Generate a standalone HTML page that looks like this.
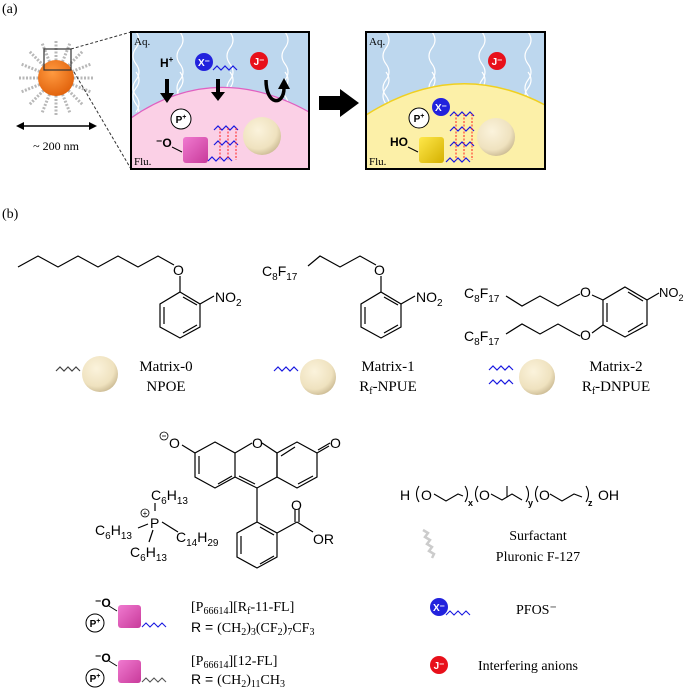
<!DOCTYPE html>
<html><head><meta charset="utf-8"><style>
body{margin:0;background:#fff}
svg{display:block}
.s{font-family:"Liberation Serif",serif}
.a{font-family:"Liberation Sans",sans-serif}
</style></head><body>
<svg width="685" height="689" viewBox="0 0 685 689" xmlns="http://www.w3.org/2000/svg">
<defs>
<polyline id="zz" points="0,0 4,-4 8,0 12,-4 16,0 20,-4 24,0" fill="none"/>
<path id="wv" d="M0,0 q6,8 0,16 q-6,8 0,16 q6,8 0,16 q-6,8 0,16 q6,8 0,16" fill="none" stroke="#fff" stroke-width="1.2"/>
<radialGradient id="sph" cx="0.4" cy="0.35" r="0.7"><stop offset="0" stop-color="#fbf3dc"/><stop offset="0.7" stop-color="#efe2bf"/><stop offset="1" stop-color="#c9b891"/></radialGradient>
<radialGradient id="org" cx="0.4" cy="0.35" r="0.7"><stop offset="0" stop-color="#ff9a40"/><stop offset="1" stop-color="#e0600a"/></radialGradient>
<linearGradient id="pk" x1="0" y1="0" x2="1" y2="1"><stop offset="0" stop-color="#f07ad0"/><stop offset="1" stop-color="#c83a9a"/></linearGradient>
<linearGradient id="yl" x1="0" y1="0" x2="1" y2="1"><stop offset="0" stop-color="#ffe84a"/><stop offset="1" stop-color="#d4b000"/></linearGradient>
</defs>

<text x="2" y="13" class="s" font-size="14">(a)</text>
<!-- particle -->
<g stroke="#b8b8b8" stroke-width="3" stroke-dasharray="2 1.5">
<line x1="56" y1="78" x2="56" y2="40"/><line x1="56" y1="78" x2="56" y2="116"/>
<line x1="56" y1="78" x2="19" y2="78"/><line x1="56" y1="78" x2="93" y2="78"/>
<line x1="56" y1="78" x2="29" y2="51"/><line x1="56" y1="78" x2="83" y2="51"/>
<line x1="56" y1="78" x2="29" y2="105"/><line x1="56" y1="78" x2="83" y2="105"/>
<line x1="56" y1="78" x2="42" y2="43"/><line x1="56" y1="78" x2="70" y2="43"/>
<line x1="56" y1="78" x2="42" y2="113"/><line x1="56" y1="78" x2="70" y2="113"/>
<line x1="56" y1="78" x2="21" y2="64"/><line x1="56" y1="78" x2="91" y2="64"/>
<line x1="56" y1="78" x2="21" y2="92"/><line x1="56" y1="78" x2="91" y2="92"/>
</g>
<circle cx="56" cy="78" r="18" fill="url(#org)"/>
<rect x="44" y="49" width="27" height="21" fill="none" stroke="#333" stroke-width="1.2"/>
<line x1="71" y1="49" x2="131" y2="32" stroke="#333" stroke-dasharray="3 2"/>
<line x1="74" y1="72" x2="131" y2="169" stroke="#333" stroke-dasharray="3 2"/>
<line x1="22" y1="126" x2="91" y2="126" stroke="#000" stroke-width="1.5"/>
<polygon points="16,126 24,122 24,130"/><polygon points="97,126 89,122 89,130"/>
<text x="56" y="150" class="s" font-size="12" text-anchor="middle">~ 200  nm</text>

<!-- left box -->
<rect x="131" y="32" width="178" height="137" fill="#bdd7ee"/>
<use href="#wv" x="136" y="32"/><use href="#wv" x="136" y="72"/>
<use href="#wv" x="180" y="32"/><use href="#wv" x="180" y="72"/>
<use href="#wv" x="230" y="32"/><use href="#wv" x="230" y="72"/>
<use href="#wv" x="285" y="32"/><use href="#wv" x="285" y="72"/>
<path d="M131,118 Q215,60 309,112 L309,169 L131,169 Z" fill="#fbd0e6" stroke="#e060c0" stroke-width="1.2"/>
<rect x="131" y="32" width="178" height="137" fill="none" stroke="#000" stroke-width="2"/>
<text x="134" y="45" class="s" font-size="11">Aq.</text>
<text x="134" y="165" class="s" font-size="11">Flu.</text>
<text x="160" y="67" class="a" font-size="12" font-weight="bold">H<tspan font-size="8" dy="-5">+</tspan></text>
<g stroke="#1a1ae0" stroke-width="1.2"><use href="#zz" x="213" y="70"/></g>
<circle cx="204" cy="62" r="9" fill="#2222dd"/>
<text x="204" y="66" class="a" font-size="10" font-weight="bold" fill="#fff" text-anchor="middle">X⁻</text>
<circle cx="259" cy="61" r="9" fill="#e8101a"/>
<text x="259" y="65" class="a" font-size="10" font-weight="bold" fill="#fff" text-anchor="middle">J⁻</text>
<rect x="165" y="79" width="4" height="15"/><polygon points="160,93 174,93 167,103"/>
<rect x="216" y="79" width="4" height="14"/><polygon points="211,92 225,92 218,101"/>
<path d="M266,80 C266,106 284,106 284,88" fill="none" stroke="#000" stroke-width="3.5"/>
<polygon points="278,89 284,78 290,89"/>
<circle cx="181" cy="119" r="10" fill="#fff" stroke="#000"/>
<text x="181" y="123" class="a" font-size="10" font-weight="bold" text-anchor="middle">P<tspan font-size="7" dy="-4">+</tspan></text>
<text x="156" y="147" class="a" font-size="12" font-weight="bold">⁻O</text>
<line x1="172" y1="147" x2="182" y2="152" stroke="#000"/>
<rect x="183" y="137" width="25" height="26" rx="3" fill="url(#pk)"/>
<g stroke="#1a1ae0" stroke-width="1.2"><use href="#zz" x="214" y="130"/><use href="#zz" x="214" y="145"/><use href="#zz" x="208" y="161"/></g>
<g stroke="#ff2020" stroke-width="1" stroke-dasharray="2 1.5"><line x1="220" y1="128" x2="220" y2="160"/><line x1="228" y1="128" x2="228" y2="160"/><line x1="236" y1="128" x2="236" y2="160"/></g>
<circle cx="262" cy="136" r="19" fill="url(#sph)"/>

<!-- arrow -->
<polygon points="319,96 340,96 340,89 359,103 340,117 340,110 319,110"/>

<!-- right box -->
<rect x="366" y="32" width="179" height="137" fill="#bdd7ee"/>
<use href="#wv" x="386" y="32"/><use href="#wv" x="386" y="72"/>
<use href="#wv" x="432" y="32"/><use href="#wv" x="432" y="72"/>
<use href="#wv" x="482" y="32"/><use href="#wv" x="482" y="72"/>
<use href="#wv" x="528" y="32"/><use href="#wv" x="528" y="72"/>
<path d="M366,115 Q456,58 545,105 L545,169 L366,169 Z" fill="#fcf0a8" stroke="#f0d020" stroke-width="1.5"/>
<rect x="366" y="32" width="179" height="137" fill="none" stroke="#000" stroke-width="2"/>
<text x="369" y="45" class="s" font-size="11">Aq.</text>
<text x="369" y="165" class="s" font-size="11">Flu.</text>
<circle cx="497" cy="61" r="9" fill="#e8101a"/>
<text x="497" y="65" class="a" font-size="10" font-weight="bold" fill="#fff" text-anchor="middle">J⁻</text>
<circle cx="441" cy="107" r="9" fill="#2222dd"/>
<text x="441" y="111" class="a" font-size="10" font-weight="bold" fill="#fff" text-anchor="middle">X⁻</text>
<circle cx="419" cy="118" r="10" fill="#fff" stroke="#000"/>
<text x="419" y="122" class="a" font-size="10" font-weight="bold" text-anchor="middle">P<tspan font-size="7" dy="-4">+</tspan></text>
<text x="390" y="146" class="a" font-size="12" font-weight="bold">HO</text>
<line x1="408" y1="147" x2="418" y2="152" stroke="#000"/>
<rect x="419" y="137" width="25" height="26" rx="3" fill="url(#yl)"/>
<g stroke="#1a1ae0" stroke-width="1.2"><use href="#zz" x="450" y="116"/><use href="#zz" x="450" y="131"/><use href="#zz" x="450" y="146"/><use href="#zz" x="446" y="162"/></g>
<g stroke="#ff2020" stroke-width="1" stroke-dasharray="2 1.5"><line x1="456" y1="114" x2="456" y2="160"/><line x1="464" y1="114" x2="464" y2="160"/><line x1="472" y1="114" x2="472" y2="160"/></g>
<circle cx="496" cy="137" r="19" fill="url(#sph)"/>

<!-- (b) -->
<text x="2" y="218" class="s" font-size="14">(b)</text>
<g fill="none" stroke="#000" stroke-width="1.2">
<!-- matrix 0 -->
<polyline points="18,267 38,256 58,267 78,256 98,267 118,256 138,267 158,256 174,265"/>
<line x1="180" y1="276" x2="180" y2="292"/>
<polygon points="180,292 200,304 200,327 180,338 160,327 160,304"/>
<line x1="164" y1="307" x2="164" y2="324"/><line x1="183" y1="333" x2="197" y2="325"/><line x1="183" y1="297" x2="197" y2="305"/>
<line x1="200" y1="304" x2="214" y2="296"/>
<!-- matrix 1 -->
<polyline points="308,266 320,256 340,267 360,256 376,265"/>
<line x1="381" y1="276" x2="381" y2="292"/>
<polygon points="381,292 401,304 401,327 381,338 361,327 361,304"/>
<line x1="365" y1="307" x2="365" y2="324"/><line x1="384" y1="333" x2="398" y2="325"/><line x1="384" y1="297" x2="398" y2="305"/>
<line x1="401" y1="304" x2="415" y2="296"/>
<!-- matrix 2 -->
<polyline points="506,296 522,306 540,296 558,306 576,296 580,294"/>
<polyline points="506,334 522,324 540,334 558,324 576,334 580,336"/>
<line x1="592" y1="295" x2="603" y2="300"/><line x1="592" y1="333" x2="603" y2="325"/>
<polygon points="625,287 647,300 647,325 625,337 603,325 603,300"/>
<line x1="607" y1="303" x2="607" y2="322"/><line x1="628" y1="292" x2="643" y2="301"/><line x1="628" y1="332" x2="643" y2="323"/>
<line x1="647" y1="300" x2="659" y2="293"/>
</g>
<g class="a" font-size="14">
<text x="173" y="275">O</text>
<text x="215" y="302">NO<tspan font-size="10" dy="4">2</tspan></text>
<text x="262" y="276">C<tspan font-size="10" dy="4">8</tspan><tspan dy="-4">F</tspan><tspan font-size="10" dy="4">17</tspan></text>
<text x="374" y="275">O</text>
<text x="416" y="302">NO<tspan font-size="10" dy="4">2</tspan></text>
<text x="464" y="298">C<tspan font-size="10" dy="4">8</tspan><tspan dy="-4">F</tspan><tspan font-size="10" dy="4">17</tspan></text>
<text x="464" y="341">C<tspan font-size="10" dy="4">8</tspan><tspan dy="-4">F</tspan><tspan font-size="10" dy="4">17</tspan></text>
<text x="580" y="297">O</text>
<text x="580" y="340">O</text>
<text x="659" y="297" font-size="13">NO<tspan font-size="9" dy="4">2</tspan></text>
</g>
<g stroke-width="1.2"><use href="#zz" x="56" y="371" stroke="#444"/><use href="#zz" x="274" y="371" stroke="#1a1ae0"/><use href="#zz" x="489" y="370" stroke="#1a1ae0"/><use href="#zz" x="489" y="384" stroke="#1a1ae0"/></g>
<circle cx="100" cy="374" r="18" fill="url(#sph)"/>
<circle cx="318" cy="377" r="18" fill="url(#sph)"/>
<circle cx="537" cy="377" r="18" fill="url(#sph)"/>
<g class="s" font-size="15" text-anchor="middle">
<text x="166" y="371">Matrix-0</text><text x="166" y="391">NPOE</text>
<text x="388" y="371">Matrix-1</text><text x="388" y="391">R<tspan font-size="10" dy="3">f</tspan><tspan dy="-3">-NPUE</tspan></text>
<text x="616" y="371">Matrix-2</text><text x="616" y="391">R<tspan font-size="10" dy="3">f</tspan><tspan dy="-3">-DNPUE</tspan></text>
</g>

<!-- fluorescein -->
<g fill="none" stroke="#000" stroke-width="1.2">
<polygon points="215,442 235,453 235,477 215,488 195,477 195,453"/>
<line x1="199" y1="456" x2="199" y2="474"/><line x1="218" y1="484" x2="232" y2="476"/>
<polyline points="235,453 252,443"/><polyline points="262,443 277,453 277,477 257,488 235,477"/>
<line x1="239" y1="476" x2="255" y2="484"/>
<polygon points="277,453 297,442 317,453 317,477 297,488 277,477"/>
<line x1="281" y1="456" x2="295" y2="447"/><line x1="298" y1="484" x2="313" y2="476"/>
<line x1="317" y1="453" x2="329" y2="446"/><line x1="318" y1="450" x2="330" y2="443"/>
<line x1="195" y1="453" x2="182" y2="445"/>
<line x1="257" y1="488" x2="257" y2="522"/>
<polygon points="257,522 277,533 277,557 257,568 237,557 237,533"/>
<line x1="241" y1="536" x2="241" y2="554"/><line x1="260" y1="564" x2="274" y2="556"/><line x1="260" y1="527" x2="274" y2="535"/>
<line x1="277" y1="533" x2="297" y2="522"/>
<line x1="295" y1="522" x2="295" y2="509"/><line x1="299" y1="522" x2="299" y2="509"/>
<line x1="297" y1="522" x2="313" y2="532"/>
<line x1="155" y1="503" x2="155" y2="511"/><line x1="138" y1="528" x2="148" y2="524"/>
<line x1="162" y1="522" x2="178" y2="532"/><line x1="153" y1="530" x2="149" y2="542"/>
</g>
<circle cx="145" cy="513" r="4" fill="none" stroke="#000" stroke-width="0.8"/><text x="145" y="516" class="a" font-size="8" text-anchor="middle">+</text>
<circle cx="164" cy="436" r="4" fill="none" stroke="#000" stroke-width="0.8"/><line x1="162" y1="436" x2="166" y2="436" stroke="#000" stroke-width="0.8"/>
<g class="a" font-size="14">
<text x="169" y="448">O</text>
<text x="252" y="448">O</text>
<text x="330" y="448">O</text>
<text x="291" y="510">O</text>
<text x="313" y="544">OR</text>
<text x="150" y="528">P</text>
<text x="151" y="500">C<tspan font-size="10" dy="4">6</tspan><tspan dy="-4">H</tspan><tspan font-size="10" dy="4">13</tspan></text>
<text x="95" y="535">C<tspan font-size="10" dy="4">6</tspan><tspan dy="-4">H</tspan><tspan font-size="10" dy="4">13</tspan></text>
<text x="176" y="542">C<tspan font-size="10" dy="4">14</tspan><tspan dy="-4">H</tspan><tspan font-size="10" dy="4">29</tspan></text>
<text x="130" y="557">C<tspan font-size="10" dy="4">6</tspan><tspan dy="-4">H</tspan><tspan font-size="10" dy="4">13</tspan></text>
</g>

<!-- pluronic -->
<g fill="none" stroke="#000" stroke-width="1.1">
<path d="M419,486 Q414,494 419,502"/><path d="M465,486 Q470,494 465,502"/>
<path d="M478,486 Q473,494 478,502"/><path d="M526,486 Q531,494 526,502"/>
<path d="M538,486 Q533,494 538,502"/><path d="M586,486 Q591,494 586,502"/>
<polyline points="434,494 446,501 458,494 463,496"/>
<polyline points="491,494 502,500 512,494 522,500"/><line x1="507" y1="497" x2="507" y2="486"/>
<polyline points="550,494 562,501 574,494 582,497"/>
</g>
<g class="a" font-size="14">
<text x="400" y="500">H</text>
<text x="421" y="500">O</text>
<text x="479" y="500">O</text>
<text x="539" y="500">O</text>
<text x="598" y="500">OH</text>
<text x="468" y="506" font-size="9" font-weight="bold">x</text>
<text x="528" y="506" font-size="9" font-weight="bold">y</text>
<text x="588" y="506" font-size="9" font-weight="bold">z</text>
</g>
<path d="M423,530 l5,3 l-3,4 l5,3 l-3,4 l5,3 l-3,4 l5,3 l-2,4" fill="none" stroke="#ccc" stroke-width="2.5"/>
<g class="s" font-size="14" text-anchor="middle">
<text x="538" y="540">Surfactant</text>
<text x="538" y="561">Pluronic  F-127</text>
</g>

<!-- legend -->
<g class="a" font-size="12" font-weight="bold"><text x="95" y="607">⁻O</text><text x="95" y="662">⁻O</text></g>
<line x1="109" y1="606" x2="117" y2="611" stroke="#000"/><line x1="109" y1="661" x2="117" y2="666" stroke="#000"/>
<circle cx="95" cy="623" r="9" fill="#fff" stroke="#000"/><text x="95" y="627" class="a" font-size="10" font-weight="bold" text-anchor="middle">P<tspan font-size="7" dy="-4">+</tspan></text>
<circle cx="95" cy="678" r="9" fill="#fff" stroke="#000"/><text x="95" y="682" class="a" font-size="10" font-weight="bold" text-anchor="middle">P<tspan font-size="7" dy="-4">+</tspan></text>
<rect x="118" y="605" width="23" height="23" rx="3" fill="url(#pk)"/>
<rect x="118" y="660" width="23" height="23" rx="3" fill="url(#pk)"/>
<g stroke-width="1.1"><use href="#zz" x="142" y="627" stroke="#1a1ae0"/><use href="#zz" x="142" y="682" stroke="#555"/></g>
<g font-size="14">
<text x="191" y="611" class="s">[P<tspan font-size="10" dy="3">66614</tspan><tspan dy="-3">][R</tspan><tspan font-size="10" dy="3">f</tspan><tspan dy="-3">-11-FL]</tspan></text>
<text x="191" y="632"><tspan class="a">R = </tspan><tspan class="s">(CH<tspan font-size="10" dy="3">2</tspan><tspan dy="-3">)</tspan><tspan font-size="10" dy="3">3</tspan><tspan dy="-3">(CF</tspan><tspan font-size="10" dy="3">2</tspan><tspan dy="-3">)</tspan><tspan font-size="10" dy="3">7</tspan><tspan dy="-3">CF</tspan><tspan font-size="10" dy="3">3</tspan></tspan></text>
<text x="191" y="665" class="s">[P<tspan font-size="10" dy="3">66614</tspan><tspan dy="-3">][12-FL]</tspan></text>
<text x="191" y="684"><tspan class="a">R = </tspan><tspan class="s">(CH<tspan font-size="10" dy="3">2</tspan><tspan dy="-3">)</tspan><tspan font-size="10" dy="3">11</tspan><tspan dy="-3">CH</tspan><tspan font-size="10" dy="3">3</tspan></tspan></text>
</g>
<g stroke="#1a1ae0" stroke-width="1.1"><use href="#zz" x="446" y="615"/></g>
<circle cx="439" cy="607" r="9" fill="#2222dd"/>
<text x="439" y="611" class="a" font-size="10" font-weight="bold" fill="#fff" text-anchor="middle">X⁻</text>
<circle cx="439" cy="665" r="9" fill="#e8101a"/>
<text x="439" y="669" class="a" font-size="10" font-weight="bold" fill="#fff" text-anchor="middle">J⁻</text>
<text x="516" y="614" class="s" font-size="14">PFOS⁻</text>
<text x="478" y="670" class="s" font-size="14">Interfering  anions</text>
</svg>
</body></html>
